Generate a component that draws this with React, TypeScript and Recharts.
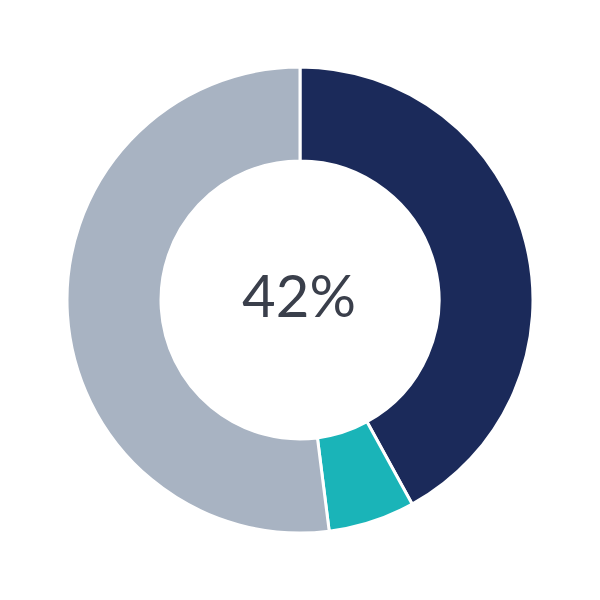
import React from 'react'
import { PieChart, Pie, Cell } from 'recharts'

const segmentNames = ['Primary', 'Secondary', 'Remaining']
const segmentValues = [42, 6, 52]
const segmentColors = ['#1b2a5a', '#1ab4b8', '#a8b3c2']
const centerLabel = '42%'

const data = segmentNames.map((name, i) => ({ name, value: segmentValues[i] }))

export default function App() {
  return (
    <div style={{ position: 'absolute', left: 0, top: 0, width: 600, height: 600, background: '#fff' }}>
      <PieChart width={600} height={600}>
        <Pie
          data={data}
          dataKey="value"
          cx={295}
          cy={295}
          innerRadius={139}
          outerRadius={233}
          startAngle={90}
          endAngle={-270}
          stroke="#ffffff"
          strokeWidth={3}
          isAnimationActive={false}
        >
          {data.map((entry, index) => (
            <Cell key={`cell-${index}`} fill={segmentColors[index]} />
          ))}
        </Pie>
        <text
          x={299}
          y={294}
          textAnchor="middle"
          dominantBaseline="central"
          fontFamily="Lato, sans-serif"
          fontSize={58}
          fill="#3a3f4b"
        >
          {centerLabel}
        </text>
      </PieChart>
    </div>
  )
}
